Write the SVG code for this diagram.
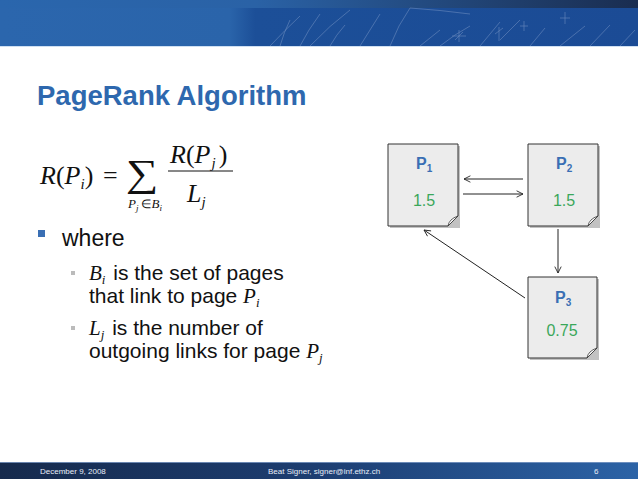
<svg xmlns="http://www.w3.org/2000/svg" width="638" height="479" viewBox="0 0 638 479">
<defs>
<linearGradient id="topStrip" x1="0" y1="0" x2="1" y2="0">
<stop offset="0" stop-color="#2a66ad"/>
<stop offset="0.4" stop-color="#2a62a6"/>
<stop offset="1" stop-color="#1a2d50"/>
</linearGradient>
<linearGradient id="band" x1="0" y1="0" x2="1" y2="0">
<stop offset="0" stop-color="#2b66ad"/>
<stop offset="0.36" stop-color="#2a64aa"/>
<stop offset="0.4" stop-color="#1c4f98"/>
<stop offset="1" stop-color="#1b4b95"/>
</linearGradient>
<linearGradient id="foot" x1="0" y1="0" x2="1" y2="0">
<stop offset="0" stop-color="#162a4c"/>
<stop offset="0.5" stop-color="#1d3e72"/>
<stop offset="1" stop-color="#2c63a6"/>
</linearGradient>
<marker id="arr" viewBox="0 0 10 10" refX="9" refY="5" markerWidth="8" markerHeight="8" orient="auto" markerUnits="userSpaceOnUse">
<path d="M1,1 L9,5 L1,9" fill="none" stroke="#222" stroke-width="1.1"/>
</marker>
</defs>
<style>
.title{font-family:"Liberation Sans",Arial,sans-serif;font-weight:bold;font-size:27.5px;fill:#2e68ae}
.m{font-family:"Liberation Serif","Times New Roman",serif;fill:#111}
.it{font-style:italic}
.body{font-family:"Liberation Sans",Arial,sans-serif;fill:#111}
.page{fill:#ececec;stroke:#333;stroke-width:1}
.shadow{fill:#999;opacity:0.6}
.fold{fill:#fff;stroke:#333;stroke-width:0.8}
.lbl{font-family:"Liberation Sans",Arial,sans-serif;font-weight:bold;font-size:16px;fill:#3a6fb4}
.val{font-family:"Liberation Sans",Arial,sans-serif;font-size:16px;fill:#3aa75a}
.conn{stroke:#222;stroke-width:1;fill:none;marker-end:url(#arr)}
.ft{font-family:"Liberation Sans",Arial,sans-serif;font-size:8px;fill:#e8eef8}
.deco{stroke:#b9c8e6;stroke-width:0.6;fill:none;opacity:0.5}
</style>
<rect width="638" height="479" fill="#fff"/>
<!-- header -->
<rect x="0" y="0" width="638" height="8" fill="url(#topStrip)"/>
<rect x="0" y="8" width="638" height="38" fill="url(#band)"/>
<rect x="0" y="46" width="638" height="1" fill="#cfe0f2"/>
<g class="deco">
<path d="M270,46 Q285,30 300,16 M280,46 Q284,32 290,20 M300,46 Q308,30 320,14 M310,46 Q330,25 350,10 M330,46 Q336,35 345,25 M360,46 Q370,30 380,14 M390,46 Q398,25 410,8 Q440,10 470,14 M420,46 L440,30 M440,46 Q455,34 470,26 M480,46 L500,22 M500,40 L520,20 M530,46 L545,28 M560,46 L585,26 M590,46 L610,25 M620,46 L635,30"/>
<path d="M455,40 l8,-8 M459,30 l0,12 M452,36 l14,0 M495,34 l8,-6 M499,27 l0,14 M560,18 l10,0 M565,12 l0,12 M520,26 l8,0 M524,21 l0,10"/>
</g>
<!-- title -->
<text class="title" x="37" y="105">PageRank Algorithm</text>
<!-- formula -->
<g id="formula">
<text class="m" font-size="26" x="40" y="184"><tspan class="it">R</tspan>(<tspan class="it">P</tspan><tspan class="it" font-size="15" dy="5">i</tspan><tspan dy="-5">)</tspan></text>
<text class="m" font-size="26" x="103" y="184">=</text>
<text class="m" font-size="38" transform="translate(126,186) scale(1.2,1)" x="0" y="0">∑</text>
<text class="m" font-size="13" x="128" y="208"><tspan class="it">P</tspan><tspan class="it" font-size="9" dy="3">j</tspan><tspan dy="-3" font-size="12"> ∈</tspan><tspan class="it">B</tspan><tspan class="it" font-size="9" dy="3">i</tspan></text>
<text class="m" font-size="26" x="170" y="163"><tspan class="it">R</tspan>(<tspan class="it">P</tspan><tspan class="it" font-size="15" dy="5" dx="1">j</tspan><tspan dy="-5" dx="3">)</tspan></text>
<line x1="168" y1="171" x2="233" y2="171" stroke="#111" stroke-width="1"/>
<text class="m" font-size="26" x="187" y="202"><tspan class="it">L</tspan><tspan class="it" font-size="15" dy="5">j</tspan></text>
</g>
<!-- bullets -->
<g id="bullets">
<rect x="38" y="230" width="7" height="7" fill="#3a6fb4"/>
<text class="body" font-size="23" x="62" y="246">where</text>
<rect x="71" y="271" width="4" height="4" fill="#bbb"/>
<text class="body" font-size="21" x="89" y="280"><tspan class="m it" font-size="21">B</tspan><tspan class="m it" font-size="13" dy="4">i</tspan><tspan dy="-4" dx="2"> is the set of pages</tspan></text>
<text class="body" font-size="21" x="89" y="303">that link to page <tspan class="m it" font-size="21">P</tspan><tspan class="m it" font-size="13" dy="4">i</tspan></text>
<rect x="71" y="326" width="4" height="4" fill="#bbb"/>
<text class="body" font-size="21" x="89" y="335"><tspan class="m it" font-size="21">L</tspan><tspan class="m it" font-size="13" dy="4">j</tspan><tspan dy="-4" dx="2"> is the number of</tspan></text>
<text class="body" font-size="21" x="89" y="358">outgoing links for page <tspan class="m it" font-size="21">P</tspan><tspan class="m it" font-size="13" dy="4">j</tspan></text>
</g>
<!-- connectors -->
<g id="connectors">
<line class="conn" x1="523" y1="179" x2="464" y2="179"/>
<line class="conn" x1="463" y1="194" x2="523" y2="194"/>
<line class="conn" x1="558" y1="229" x2="558" y2="273"/>
<line class="conn" x1="525" y1="298" x2="424" y2="230"/>
</g>
<!-- nodes -->
<g id="P1">
<rect class="shadow" x="390" y="146" width="70" height="82"/>
<path class="page" d="M388,144 H458 V216 L448,226 H388 Z"/>
<path class="fold" d="M458,216 L448,226 Q449,219 458,216 Z"/>
<text class="lbl" x="416" y="169">P<tspan font-size="10" dy="3">1</tspan></text>
<text class="val" x="424" y="206" text-anchor="middle">1.5</text>
</g>
<g id="P2">
<rect class="shadow" x="530" y="146" width="70" height="82"/>
<path class="page" d="M528,144 H598 V216 L588,226 H528 Z"/>
<path class="fold" d="M598,216 L588,226 Q589,219 598,216 Z"/>
<text class="lbl" x="556" y="169">P<tspan font-size="10" dy="3">2</tspan></text>
<text class="val" x="564" y="206" text-anchor="middle">1.5</text>
</g>
<g id="P3">
<rect class="shadow" x="530" y="279" width="69" height="81"/>
<path class="page" d="M528,277 H597 V348 L587,358 H528 Z"/>
<path class="fold" d="M597,348 L587,358 Q588,351 597,348 Z"/>
<text class="lbl" x="555" y="303">P<tspan font-size="10" dy="3">3</tspan></text>
<text class="val" x="562" y="336" text-anchor="middle">0.75</text>
</g>
<!-- footer -->
<rect x="0" y="462" width="638" height="17" fill="url(#foot)"/>
<rect x="0" y="462" width="638" height="0.8" fill="#7f9cc6"/>
<text class="ft" x="40" y="474">December 9, 2008</text>
<text class="ft" x="268" y="474">Beat Signer, signer@inf.ethz.ch</text>
<text class="ft" x="594" y="474">6</text>
</svg>
